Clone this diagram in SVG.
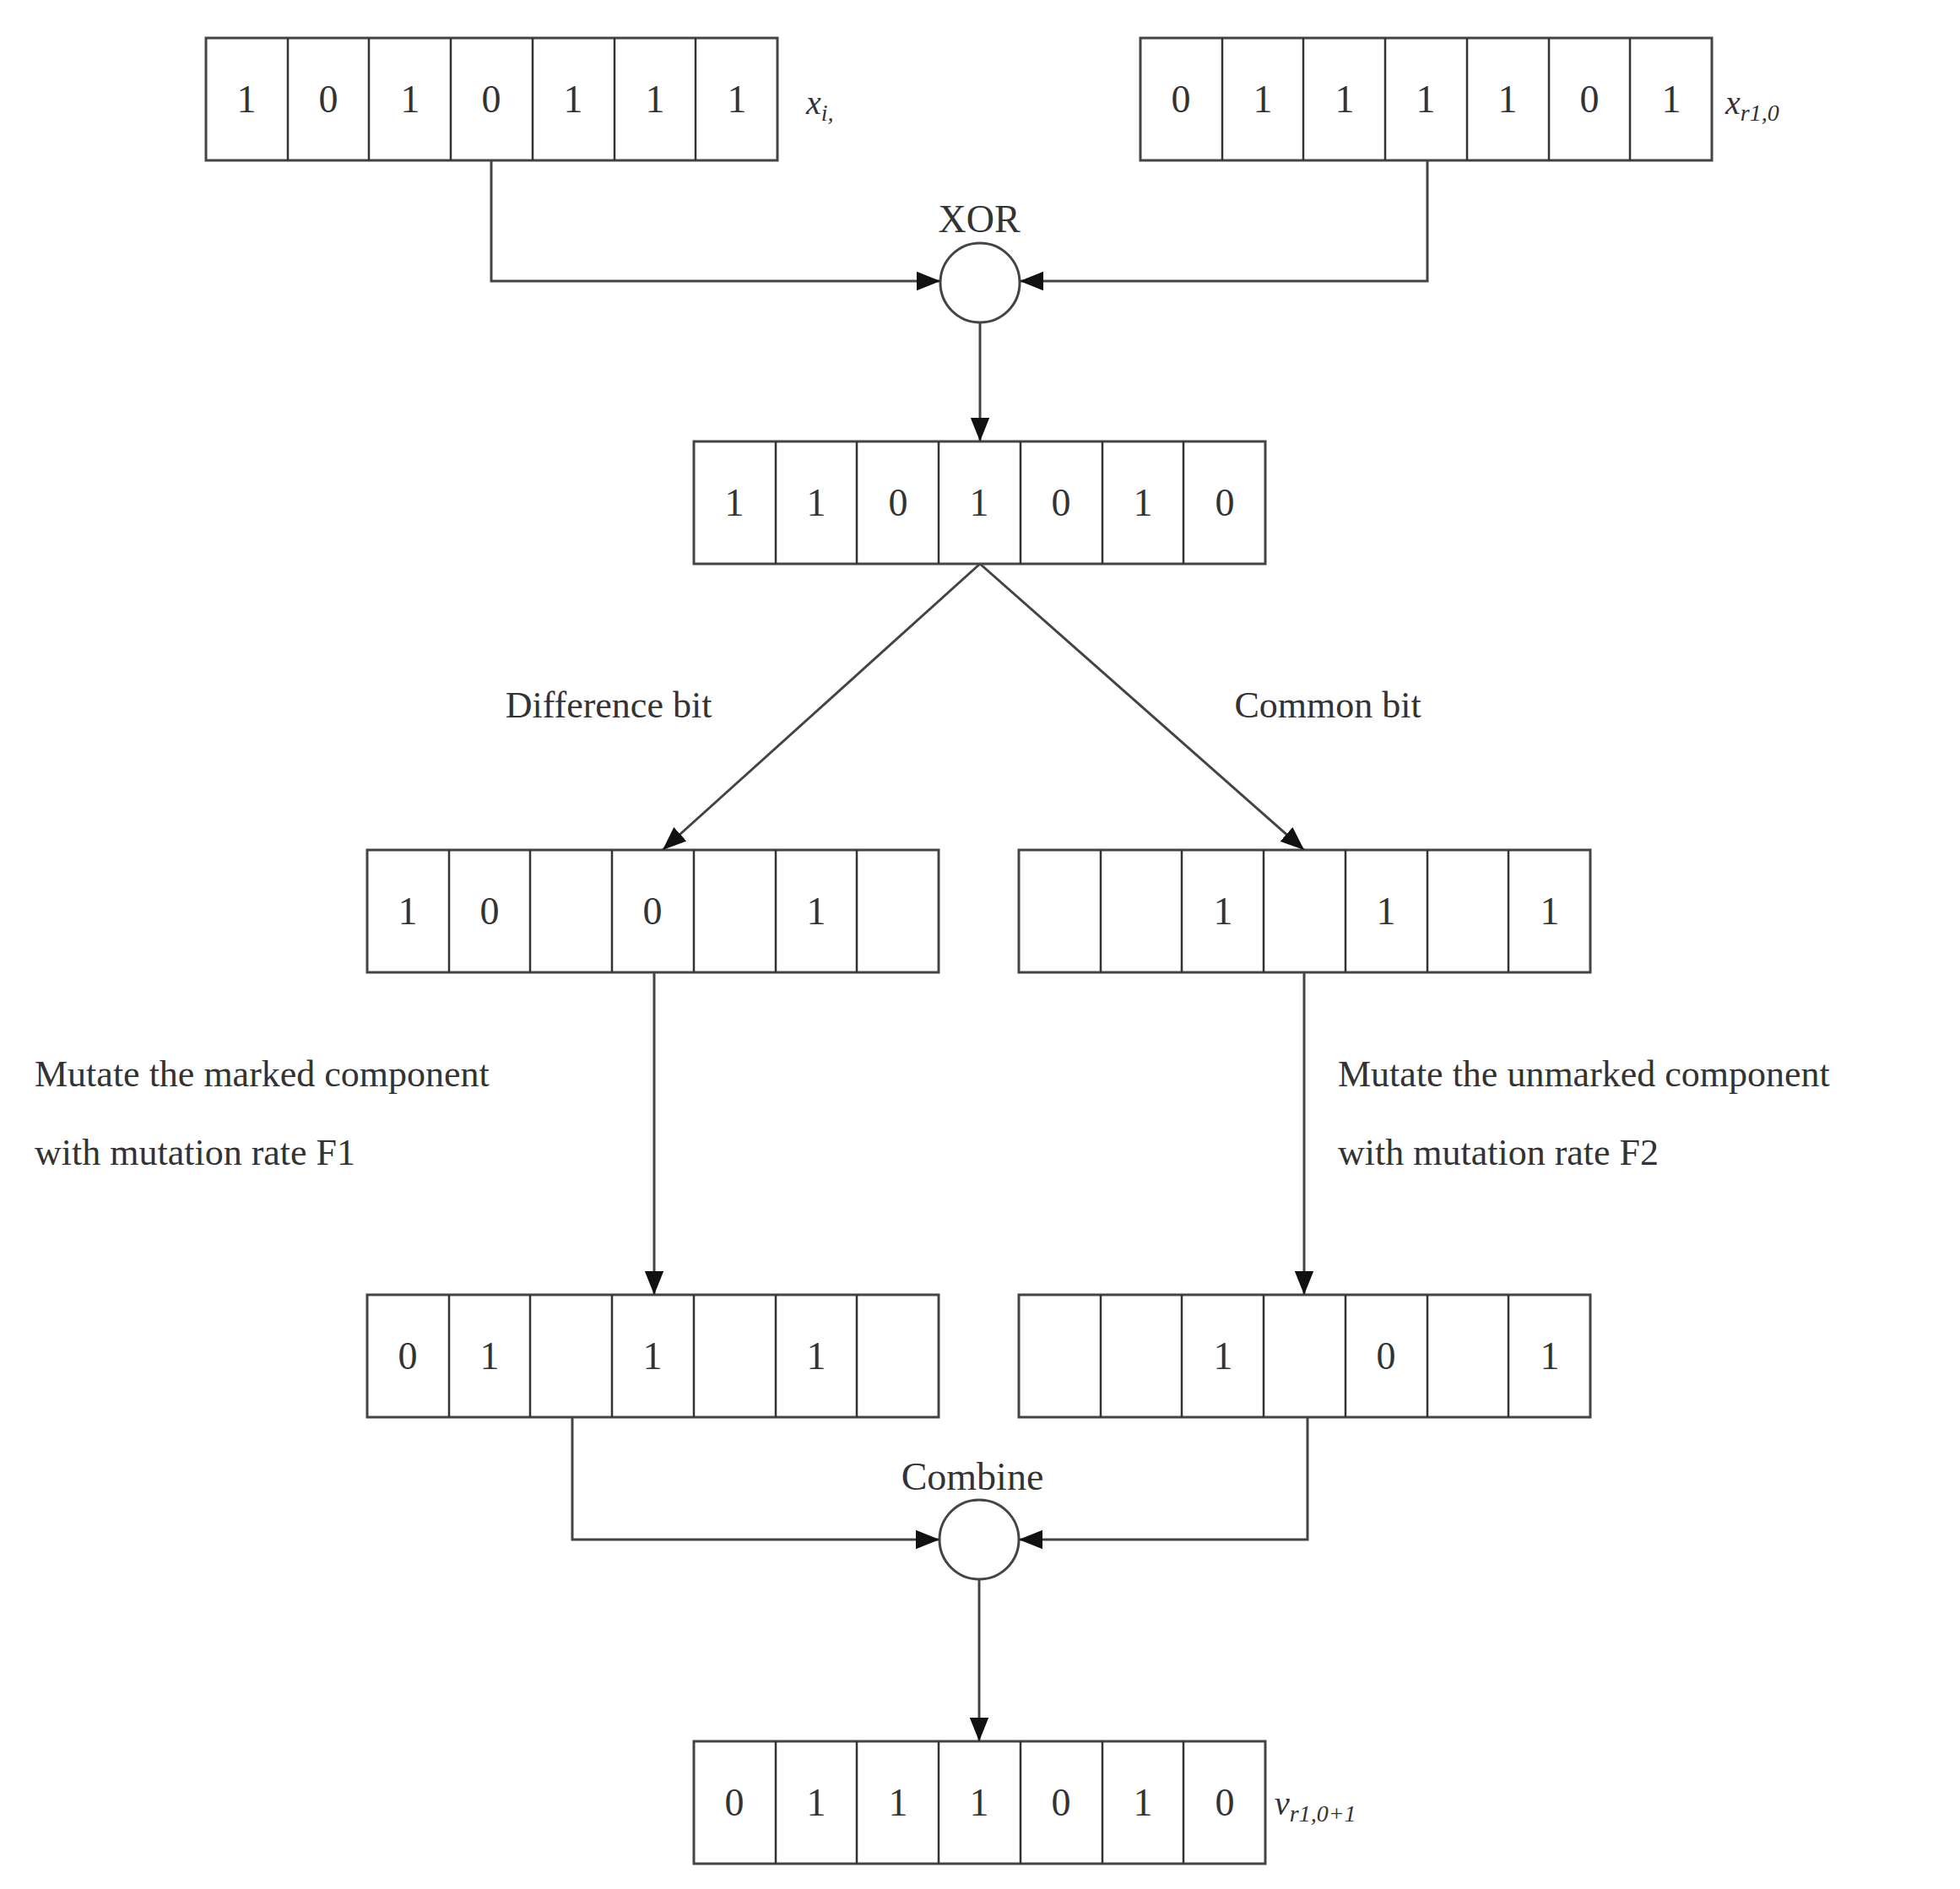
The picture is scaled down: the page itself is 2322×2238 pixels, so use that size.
<svg xmlns="http://www.w3.org/2000/svg" width="2322" height="2238" viewBox="0 0 2322 2238">
<style>
.c{fill:#fff;stroke:#444;stroke-width:3}
.d{stroke:#333;stroke-width:2.5}
.t{font-family:"Liberation Serif",serif;font-size:46px;fill:#333;text-anchor:middle}
.l{font-family:"Liberation Serif",serif;font-size:44px;fill:#333}
.s{font-family:"Liberation Serif",serif;font-style:italic;font-size:40px;fill:#333}
.k{fill:none;stroke:#444;stroke-width:3}
</style>
<defs>
<marker id="a" viewBox="0 0 10 10" refX="10" refY="5" markerWidth="9" markerHeight="9" markerUnits="userSpaceOnUse" orient="auto"><path d="M0,0 L10,5 L0,10 z" fill="#111"/></marker>
<marker id="b" viewBox="0 0 10 10" refX="10" refY="5" markerWidth="28" markerHeight="28" markerUnits="userSpaceOnUse" orient="auto"><path d="M0,1 L10,5 L0,9 z" fill="#111"/></marker>
<g id="cells"><rect class="c" x="0" y="0" width="677" height="145"/>
<path class="d" d="M97,0V145M193,0V145M290,0V145M387,0V145M484,0V145M580,0V145"/></g>
</defs>
<g id="arr1" transform="translate(244,45)"><use href="#cells"/>
<g class="t"><text x="48" y="88">1</text><text x="145" y="88">0</text><text x="242" y="88">1</text><text x="338" y="88">0</text><text x="435" y="88">1</text><text x="532" y="88">1</text><text x="629" y="88">1</text></g></g>
<text class="s" x="955" y="135">x<tspan font-size="28" dy="8">i,</tspan></text>
<g id="arr2" transform="translate(1351,45)"><use href="#cells"/>
<g class="t"><text x="48" y="88">0</text><text x="145" y="88">1</text><text x="242" y="88">1</text><text x="338" y="88">1</text><text x="435" y="88">1</text><text x="532" y="88">0</text><text x="629" y="88">1</text></g></g>
<text class="s" x="2044" y="135">x<tspan font-size="28" dy="8">r1,0</tspan></text>
<g id="xor"><circle class="k" cx="1161" cy="335" r="47"/><text class="t" x="1160" y="275">XOR</text></g>
<g id="arr3" transform="translate(822,523)"><use href="#cells"/>
<g class="t"><text x="48" y="88">1</text><text x="145" y="88">1</text><text x="242" y="88">0</text><text x="338" y="88">1</text><text x="435" y="88">0</text><text x="532" y="88">1</text><text x="629" y="88">0</text></g></g>
<text class="l" x="721" y="850" text-anchor="middle">Difference bit</text>
<text class="l" x="1573" y="850" text-anchor="middle">Common bit</text>
<g id="arr4" transform="translate(435,1007)"><use href="#cells"/>
<g class="t"><text x="48" y="88">1</text><text x="145" y="88">0</text><text x="338" y="88">0</text><text x="532" y="88">1</text></g></g>
<g id="arr5" transform="translate(1207,1007)"><use href="#cells"/>
<g class="t"><text x="242" y="88">1</text><text x="435" y="88">1</text><text x="629" y="88">1</text></g></g>
<text class="l" x="41" y="1287">Mutate the marked component</text>
<text class="l" x="41" y="1380">with mutation rate F1</text>
<text class="l" x="1585" y="1287">Mutate the unmarked component</text>
<text class="l" x="1585" y="1380">with mutation rate F2</text>
<g id="arr6" transform="translate(435,1534)"><use href="#cells"/>
<g class="t"><text x="48" y="88">0</text><text x="145" y="88">1</text><text x="338" y="88">1</text><text x="532" y="88">1</text></g></g>
<g id="arr7" transform="translate(1207,1534)"><use href="#cells"/>
<g class="t"><text x="242" y="88">1</text><text x="435" y="88">0</text><text x="629" y="88">1</text></g></g>
<g id="combine"><circle class="k" cx="1160" cy="1824" r="47"/><text class="t" x="1152" y="1765">Combine</text></g>
<g id="arr8" transform="translate(822,2063)"><use href="#cells"/>
<g class="t"><text x="48" y="88">0</text><text x="145" y="88">1</text><text x="242" y="88">1</text><text x="338" y="88">1</text><text x="435" y="88">0</text><text x="532" y="88">1</text><text x="629" y="88">0</text></g></g>
<text class="s" x="1510" y="2150">v<tspan font-size="28" dy="8">r1,0+1</tspan></text>
<g id="connectors" class="k" marker-end="url(#b)">
<path d="M582,190V333H1114"/>
<path d="M1691,190V333H1208"/>
<path d="M1161,382V523"/>
<path d="M1161,668L785,1007"/>
<path d="M1161,668L1545,1007"/>
<path d="M775,1152V1534"/>
<path d="M1545,1152V1534"/>
<path d="M678,1679V1824H1113"/>
<path d="M1549,1679V1824H1207"/>
<path d="M1160,1871V2063"/>
</g>
</svg>
